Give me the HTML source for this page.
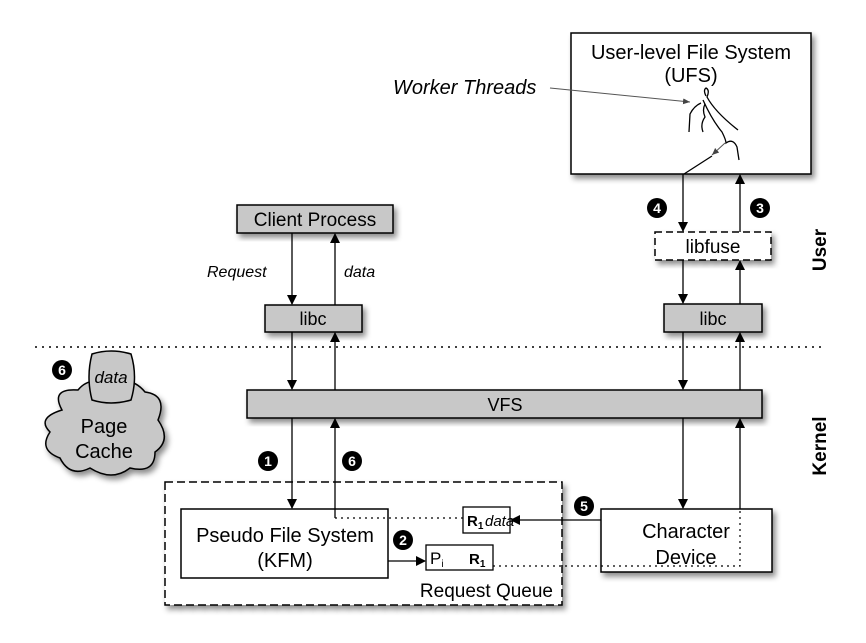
<!DOCTYPE html>
<html><head><meta charset="utf-8"><style>
body{margin:0;background:#fff}
svg{display:block;font-family:"Liberation Sans",Arial,sans-serif}
</style></head><body>
<svg width="866" height="643" viewBox="0 0 866 643" xmlns="http://www.w3.org/2000/svg">
<defs>
<marker id="a" markerWidth="10" markerHeight="10" refX="9" refY="5" orient="auto" markerUnits="userSpaceOnUse"><path d="M0,0 L10,5 L0,10 z" fill="#000"/></marker>
<marker id="s" markerWidth="8" markerHeight="8" refX="7" refY="4" orient="auto" markerUnits="userSpaceOnUse"><path d="M0,1 L7,4 L0,7 z" fill="#444"/></marker>
<filter id="sh" x="-10%" y="-10%" width="130%" height="140%"><feDropShadow dx="3" dy="4" stdDeviation="3" flood-opacity="0.45"/></filter>
</defs>
<!-- UFS -->
<rect x="571" y="33" width="240" height="141" fill="#fff" stroke="#000" stroke-width="1.5" filter="url(#sh)"/>
<text x="691" y="59" font-size="20" text-anchor="middle">User-level File System</text>
<text x="691" y="82" font-size="20" text-anchor="middle">(UFS)</text>
<text x="393" y="94" font-size="20" font-style="italic">Worker Threads</text>
<line x1="550" y1="88" x2="690" y2="102" stroke="#555" marker-end="url(#s)"/>
<g fill="none" stroke="#000" stroke-width="1.3">
<path d="M689,132 L690,114 Q694,106 701,103"/>
<path d="M703,132 Q700,124 705,117 Q702,110 705,104"/>
<path d="M706,96 Q703,90 706,88 Q710,90 707,97 Q715,112 738,130"/>
<path d="M703,100 Q712,120 722,132 Q726,140 726,143 Q733,138 737,147 L739,160"/>
<path d="M684,174 L712,156"/>
</g>
<line x1="725" y1="143" x2="712" y2="155" stroke="#555" marker-end="url(#s)"/>
<!-- Client process -->
<rect x="237" y="205" width="156" height="28" fill="#c8c8c8" stroke="#000" stroke-width="1.5" filter="url(#sh)"/>
<text x="315" y="226" font-size="19" text-anchor="middle">Client Process</text>
<text x="207" y="277" font-size="16" font-style="italic">Request</text>
<text x="344" y="277" font-size="16" font-style="italic">data</text>
<rect x="265" y="305" width="97" height="27" fill="#c8c8c8" stroke="#000" stroke-width="1.5" filter="url(#sh)"/>
<text x="313" y="325" font-size="18" text-anchor="middle">libc</text>
<!-- libfuse -->
<rect x="655" y="232" width="116" height="28" fill="#fff" stroke="#000" stroke-width="1.5" stroke-dasharray="7,4" filter="url(#sh)"/>
<text x="713" y="253" font-size="19" text-anchor="middle">libfuse</text>
<rect x="664" y="304" width="98" height="28" fill="#c8c8c8" stroke="#000" stroke-width="1.5" filter="url(#sh)"/>
<text x="713" y="325" font-size="18" text-anchor="middle">libc</text>
<!-- labels -->
<text transform="translate(826,250) rotate(-90)" font-size="19" font-weight="bold" text-anchor="middle">User</text>
<text transform="translate(826,446) rotate(-90)" font-size="19" font-weight="bold" text-anchor="middle">Kernel</text>
<line x1="35" y1="347" x2="822" y2="347" stroke="#000" stroke-width="1.5" stroke-dasharray="2,5"/>
<!-- VFS -->
<rect x="247" y="390" width="515" height="28" fill="#c8c8c8" stroke="#000" stroke-width="1.5" filter="url(#sh)"/>
<text x="505" y="411" font-size="18" text-anchor="middle">VFS</text>
<!-- page cache -->
<path d="M62,410 Q50,388 78,390 Q90,375 110,386 Q130,374 145,392 Q168,395 158,420 Q172,440 155,452 Q155,474 130,468 Q112,482 90,468 Q70,478 60,458 Q38,450 50,432 Q36,418 62,410 Z" fill="#c8c8c8" stroke="#000" stroke-width="1.5" filter="url(#sh)"/>
<path d="M92,354 Q111,348 131,354 Q138,377 131,400 Q111,406 92,400 Q86,377 92,354 Z" fill="#c8c8c8" stroke="#000" stroke-width="1.5"/>
<text x="111" y="383" font-size="17" font-style="italic" text-anchor="middle">data</text>
<text x="104" y="433" font-size="20" text-anchor="middle">Page</text>
<text x="104" y="458" font-size="20" text-anchor="middle">Cache</text>
<!-- Request queue -->
<rect x="165" y="482" width="397" height="123" fill="#fff" stroke="#000" stroke-width="1.5" stroke-dasharray="8,4" filter="url(#sh)"/>
<text x="553" y="597" font-size="19" text-anchor="end">Request Queue</text>
<rect x="181" y="509" width="207" height="69" fill="#fff" stroke="#000" stroke-width="1.5"/>
<text x="285" y="542" font-size="20" text-anchor="middle">Pseudo File System</text>
<text x="285" y="567" font-size="20" text-anchor="middle">(KFM)</text>
<rect x="463" y="507" width="47" height="26" fill="#fff" stroke="#000" stroke-width="1.3"/>
<text x="467" y="526" font-size="15" font-weight="bold">R<tspan font-size="10" dy="3">1</tspan></text>
<text x="485" y="526" font-size="15" font-style="italic">data</text>
<rect x="426" y="545" width="67" height="25" fill="#fff" stroke="#000" stroke-width="1.3"/>
<text x="430" y="564" font-size="17">P<tspan font-size="10" dy="3">i</tspan></text>
<text x="469" y="564" font-size="15" font-weight="bold">R<tspan font-size="10" dy="3">1</tspan></text>
<!-- char device -->
<rect x="601" y="509" width="171" height="63" fill="#fff" stroke="#000" stroke-width="1.5" filter="url(#sh)"/>
<text x="686" y="538" font-size="20" text-anchor="middle">Character</text>
<text x="686" y="564" font-size="20" text-anchor="middle">Device</text>
<!-- arrows -->
<g stroke="#000" stroke-width="1.3" fill="none">
<line x1="292" y1="233" x2="292" y2="304" marker-end="url(#a)"/>
<line x1="335" y1="305" x2="335" y2="234" marker-end="url(#a)"/>
<line x1="292" y1="332" x2="292" y2="389" marker-end="url(#a)"/>
<line x1="335" y1="390" x2="335" y2="333" marker-end="url(#a)"/>
<line x1="292" y1="418" x2="292" y2="508" marker-end="url(#a)"/>
<line x1="335" y1="518" x2="335" y2="419" marker-end="url(#a)"/>
<line x1="683" y1="174" x2="683" y2="231" marker-end="url(#a)"/>
<line x1="740" y1="232" x2="740" y2="175" marker-end="url(#a)"/>
<line x1="683" y1="260" x2="683" y2="303" marker-end="url(#a)"/>
<line x1="740" y1="304" x2="740" y2="261" marker-end="url(#a)"/>
<line x1="683" y1="332" x2="683" y2="389" marker-end="url(#a)"/>
<line x1="740" y1="390" x2="740" y2="333" marker-end="url(#a)"/>
<line x1="683" y1="418" x2="683" y2="508" marker-end="url(#a)"/>
<line x1="740" y1="509" x2="740" y2="419" marker-end="url(#a)"/>
<line x1="601" y1="520" x2="511" y2="520" marker-end="url(#a)"/>
<line x1="388" y1="561" x2="425" y2="561" marker-end="url(#a)"/>
</g>
<g stroke="#000" stroke-width="1.2" stroke-dasharray="2,4" fill="none">
<polyline points="335,518 463,518"/>
<polyline points="493,566 740,566 740,509"/>
</g>
<!-- numbers -->
<g font-size="14" font-weight="bold" text-anchor="middle" fill="#fff">
<circle cx="268" cy="461" r="10" fill="#000"/><text x="268" y="466">1</text>
<circle cx="352" cy="461" r="10" fill="#000"/><text x="352" y="466">6</text>
<circle cx="403" cy="540" r="10" fill="#000"/><text x="403" y="545">2</text>
<circle cx="584" cy="506" r="10" fill="#000"/><text x="584" y="511">5</text>
<circle cx="657" cy="208" r="10" fill="#000"/><text x="657" y="213">4</text>
<circle cx="760" cy="208" r="10" fill="#000"/><text x="760" y="213">3</text>
<circle cx="62" cy="370" r="10" fill="#000"/><text x="62" y="375">6</text>
</g>
</svg>
</body></html>
